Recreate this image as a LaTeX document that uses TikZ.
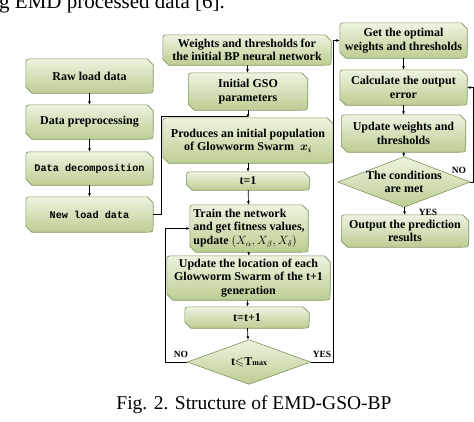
\documentclass[tikz,border=0pt]{standalone}
\usepackage{fontspec}
\setmainfont{Liberation Serif}
\newfontfamily\monofont{Liberation Mono}
\usepackage{amsmath}
\usepackage{amssymb}
\usetikzlibrary{arrows.meta}
\usetikzlibrary{calc,backgrounds}
\tikzset{>={Latex[width=3pt,length=3.5pt]}}

\definecolor{boxtop}{RGB}{238,243,224}
\definecolor{boxbot}{RGB}{188,205,146}
\definecolor{boxline}{RGB}{128,148,96}

\tikzset{
  blk/.style={align=center, inner sep=1pt, font=\fontsize{12}{13.5}\selectfont\bfseries},
  mono/.style={align=center, inner sep=1pt, font=\fontsize{10.2}{13}\selectfont\monofont\bfseries},
  shp/.style={draw=boxline, line width=0.6pt, top color=boxtop, bottom color=boxbot},
  lnk/.style={->, line width=0.7pt},
  lbl/.style={inner sep=0pt, font=\fontsize{9.5}{10}\selectfont\bfseries}
}

% octagon-like box: round top left / bottom right, snipped others
\newcommand\boxpath[1]{%
  \path[shp] ($(#1.south west)+(0,6pt)$) -- ($(#1.north west)+(0,-7pt)$)
    .. controls (#1.north west) .. ($(#1.north west)+(7pt,0)$)
    -- ($(#1.north east)+(-6pt,0)$) -- ($(#1.north east)+(0,-6pt)$)
    -- ($(#1.south east)+(0,7pt)$)
    .. controls (#1.south east) .. ($(#1.south east)+(-7pt,0)$)
    -- ($(#1.south west)+(6pt,0)$) -- cycle;}
\newcommand\diapath[1]{%
  \path[shp] (#1.north) -- (#1.east) -- (#1.south) -- (#1.west) -- cycle;}

\begin{document}
\begin{tikzpicture}[x=1pt,y=-1pt]
\useasboundingbox (0,0) rectangle (474,421);

\begin{scope}
\clip (0,0) rectangle (474,421);
\node[anchor=base west, inner sep=0pt, font=\fontsize{21}{24}\selectfont] (toptxt) at (-1,8.5) {g EMD processed data [6].};
\end{scope}

% left column
\node[blk, minimum width=127pt, minimum height=34pt] (raw) at (89.5,76) {Raw load data};
\node[blk, minimum width=127pt, minimum height=34pt] (prep) at (89.5,122) {Data preprocessing};
\node[mono, minimum width=127pt, minimum height=33pt] (decomp) at (89.5,168.5) {Data decomposition};
\node[mono, minimum width=127pt, minimum height=35pt] (newd) at (89.5,214.5) {New load data};

% middle column
\node[blk, minimum width=168pt, minimum height=30pt] (wts) at (247,50) {Weights and thresholds for\\the initial BP neural network};
\node[blk, minimum width=119pt, minimum height=37pt] (gso) at (248,91.5) {Initial GSO\\parameters};
\node[blk, minimum width=170pt, minimum height=45pt] (prod) at (248,140.5) {Produces an initial population\\of Glowworm Swarm \ $\boldsymbol{x_i}$};
\node[blk, minimum width=123pt, minimum height=18pt] (tone) at (248,181) {t=1};
\node[blk, align=left, minimum width=118pt, minimum height=47pt] (train) at (249,228.5) {Train the network\\and get fitness values,\\update $(X_\alpha,X_\beta,X_\delta)$};
\node[blk, minimum width=163pt, minimum height=44pt] (upd) at (248.5,278) {Update the location of each\\Glowworm Swarm of the t+1\\generation};
\node[blk, minimum width=124pt, minimum height=21pt] (tnext) at (247,317.5) {t=t+1};
\node[blk, minimum width=123pt, minimum height=44pt] (tdia) at (249,362) {t$\leqslant$T{\fontsize{8}{9}\selectfont max}};

% right column
\node[blk, minimum width=127pt, minimum height=35pt] (opt) at (403.5,40.5) {Get the optimal\\weights and thresholds};
\node[blk, minimum width=127pt, minimum height=35pt] (calc) at (403.5,87.5) {Calculate the output\\error};
\node[blk, minimum width=124pt, minimum height=37pt] (updw) at (403.5,133.5) {Update weights and\\thresholds};
\node[blk, minimum width=132pt, minimum height=50pt] (cond) at (404,182) {The conditions\\are met};
\node[blk, minimum width=127pt, minimum height=32pt] (outp) at (405,231) {Output the prediction\\results};

\begin{scope}[on background layer]
\boxpath{raw}
\boxpath{prep}
\boxpath{decomp}
\boxpath{newd}
\boxpath{wts}
\boxpath{gso}
\boxpath{prod}
\boxpath{tone}
\boxpath{train}
\boxpath{upd}
\boxpath{tnext}
\diapath{tdia}
\boxpath{opt}
\boxpath{calc}
\boxpath{updw}
\diapath{cond}
\boxpath{outp}
\end{scope}

\coordinate (join) at (248,116);

\draw[lnk] (raw) -- (prep);
\draw[lnk] (prep) -- (decomp);
\draw[lnk] (decomp) -- (newd);
\draw[line width=0.7pt] (newd.east) -| (161,116) -- (join);

\draw[lnk] (wts) -- (gso);
\draw[lnk] (gso) -- (prod);
\draw[lnk] (prod) -- (tone);
\draw[lnk] (tone) -- (train);
\draw[lnk] (train) -- (upd);
\draw[lnk] (upd) -- (tnext);
\draw[lnk] (tnext) -- (tdia);
\draw[lnk] (tdia.west) -- ++(-22,0) |- (train.west);
\draw[lnk] (tdia.east) -- ++(23,0) |- (opt.west);

\draw[lnk] (opt) -- (calc);
\draw[lnk] (calc) -- (updw);
\draw[lnk] (updw) -- (cond);
\draw[lnk] (cond) -- (outp);
\draw[lnk] (cond.east) -- ++(3,0) |- (calc.east);

\node[lbl] (noa) at (181,354) {NO};
\node[lbl] (yesa) at (322,354) {YES};
\node[lbl] (nob) at (459,170) {NO};
\node[lbl] (yesb) at (428,212) {YES};

\node[font=\fontsize{19.5}{22}\selectfont] (cap) at (254,405) {Fig. 2. Structure of EMD-GSO-BP};

\end{tikzpicture}
\end{document}
